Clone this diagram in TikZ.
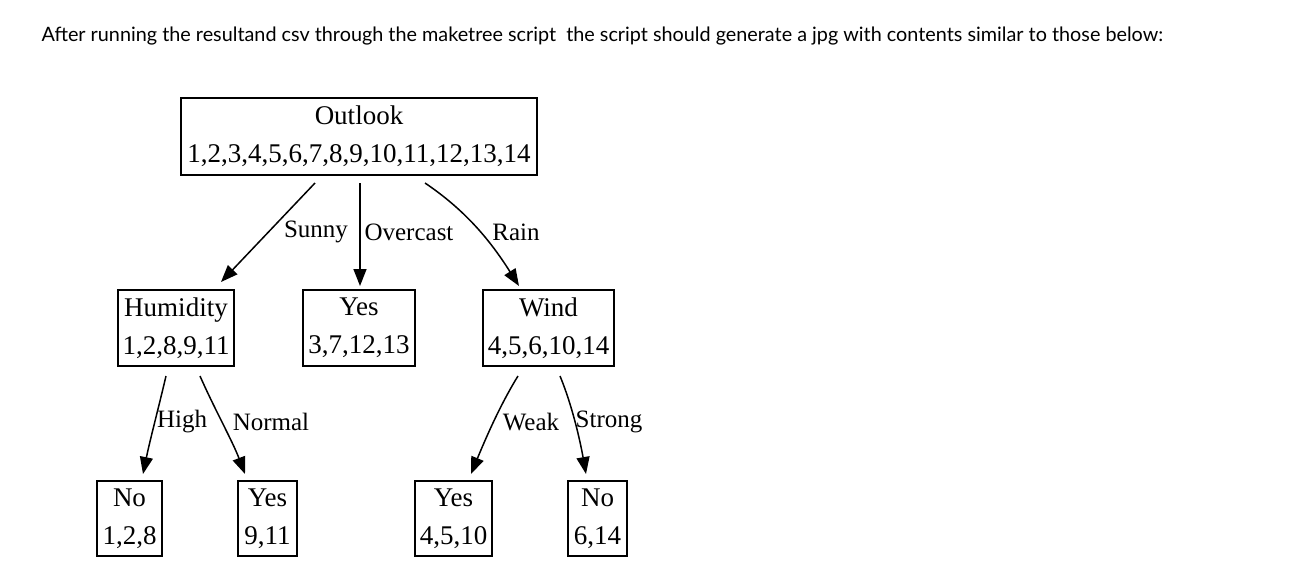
\documentclass[tikz,border=0pt]{standalone}
\usepackage{fontspec}
\setmainfont{Liberation Serif}
\newfontfamily\hdrfont{Lato}
\usetikzlibrary{arrows.meta}
\begin{document}
\begin{tikzpicture}[x=1pt,y=-1pt,
  box/.style={draw,line width=1.5pt,align=center,inner sep=0pt,font=\fontsize{27}{38}\selectfont},
  lab/.style={font=\fontsize{25}{28}\selectfont,inner sep=1pt},
  arr/.style={line width=1.5pt,-{Triangle[length=17pt,width=13pt]}}]
\useasboundingbox (0,0) rectangle (1290,576);
\fill[white] (0,0) rectangle (1290,576);
\node[anchor=west,font=\hdrfont\fontsize{19.8}{22}\selectfont] (hdr) at (38,36) {After running the resultand csv through the maketree script\ \ the script should generate a jpg with contents similar to those below:};
\node[box,minimum width=356,minimum height=77] (out) at (359,136.5) {Outlook\\1,2,3,4,5,6,7,8,9,10,11,12,13,14};
\node[box,minimum width=116,minimum height=76] (hum) at (176,328) {Humidity\\1,2,8,9,11};
\node[box,minimum width=112,minimum height=76] (yes1) at (359,328) {Yes\\3,7,12,13};
\node[box,minimum width=131,minimum height=76] (wind) at (548.5,328) {Wind\\4,5,6,10,14};
\node[box,minimum width=65,minimum height=75] (no1) at (129.5,518.5) {No\\1,2,8};
\node[box,minimum width=59,minimum height=75] (yes2) at (267.5,518.5) {Yes\\9,11};
\node[box,minimum width=77,minimum height=75] (yes3) at (453.5,518.5) {Yes\\4,5,10};
\node[box,minimum width=59,minimum height=75] (no2) at (597.5,518.5) {No\\6,14};
\coordinate (s1) at (315,183); \coordinate (e1) at (221,282);
\coordinate (s2) at (360,183); \coordinate (e2) at (360,286);
\coordinate (s3) at (425,183); \coordinate (e3) at (519,286);
\coordinate (s4) at (166,376); \coordinate (e4) at (143,474);
\coordinate (s5) at (200,376); \coordinate (e5) at (245,474);
\coordinate (s6) at (518,376); \coordinate (e6) at (471,474);
\coordinate (s7) at (560,376); \coordinate (e7) at (586,474);
\draw[arr] (s1) -- (e1);
\draw[arr] (s2) -- (e2);
\draw[arr] (s3) .. controls (465,210) and (490,240) .. (e3);
\draw[arr] (s4) .. controls (158,410) and (150,440) .. (e4);
\draw[arr] (s5) .. controls (215,410) and (232,440) .. (e5);
\draw[arr] (s6) .. controls (500,405) and (485,440) .. (e6);
\draw[arr] (s7) .. controls (572,405) and (580,440) .. (e7);
\node[lab] (l1) at (316,232) {Sunny};
\node[lab] (l2) at (409,232) {Overcast};
\node[lab] (l3) at (516,232) {Rain};
\node[lab] (l4) at (182,422) {High};
\node[lab] (l5) at (271,422) {Normal};
\node[lab] (l6) at (531,422) {Weak};
\node[lab] (l7) at (609,422) {Strong};
\end{tikzpicture}
\end{document}
